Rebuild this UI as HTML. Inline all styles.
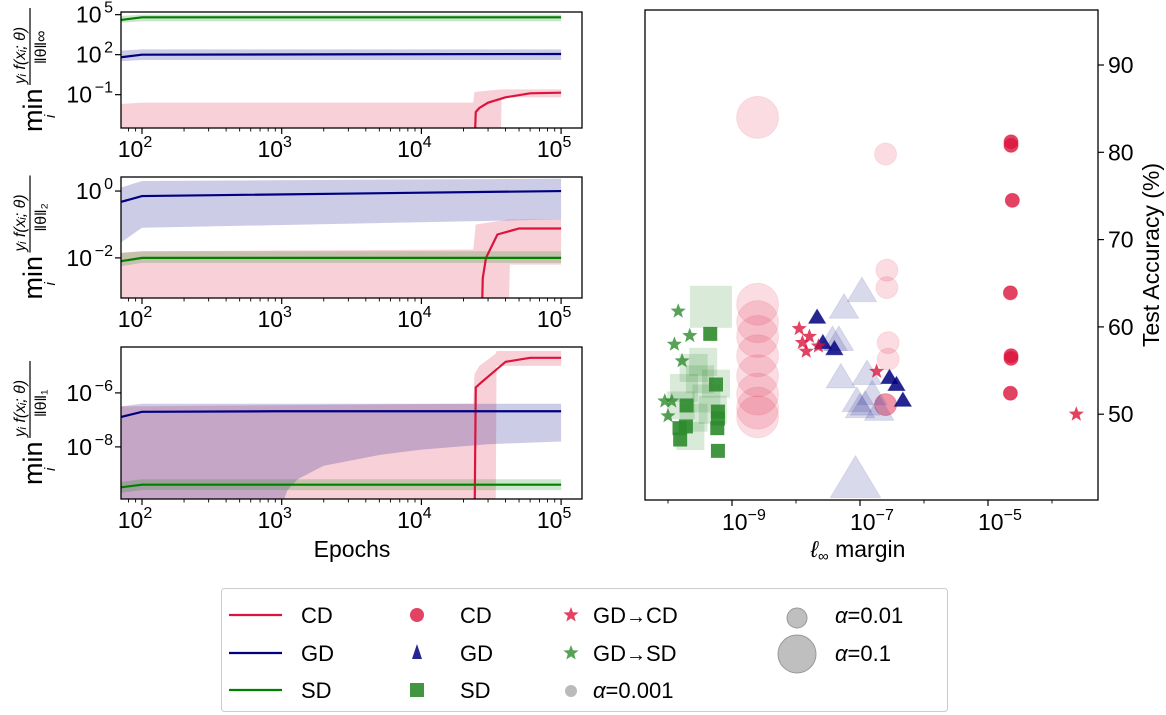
<!DOCTYPE html>
<html><head><meta charset="utf-8"><style>
html,body{margin:0;padding:0;background:#fff;}
svg{display:block;font-family:"Liberation Sans","DejaVu Sans",sans-serif;}
</style></head><body>
<svg id="c" width="1166" height="715" viewBox="0 0 1166 715" xmlns="http://www.w3.org/2000/svg"></svg>
<script>
// ---- left panels data (log10 values) ----
const p1SDx=[70,100,100000], p1SDm=[4.6,4.8,4.8], p1SDlo=[4.4,4.5,4.5], p1SDhi=[4.9,5.0,5.0];
const p1GDx=[70,100,100000], p1GDm=[1.8,2.0,2.05], p1GDlo=[1.5,1.6,1.6], p1GDhi=[2.3,2.4,2.4];
const p1CDbx=[70,100,23500,24000,37000,37500,100000], p1CDblo=[-5,-5,-5,-5,-5,-1.2,-1.2], p1CDbhi=[-1.7,-1.6,-1.6,-0.8,-0.6,-0.6,-0.6];
const p1CDx=[24000,24500,26000,30000,40000,60000,100000], p1CDm=[-5,-2.3,-2.0,-1.6,-1.2,-0.9,-0.85];

const p2GDx=[70,100,100000], p2GDm=[-0.33,-0.15,0], p2GDlo=[-1.55,-1.1,-0.85], p2GDhi=[0.1,0.3,0.37];
const p2SDx=[70,100,100000], p2SDm=[-2.1,-2.0,-2.0], p2SDlo=[-2.25,-2.15,-2.15], p2SDhi=[-1.85,-1.8,-1.8];
const p2CDbx=[70,100,23500,24500,42000,43000,100000], p2CDblo=[-4,-4,-4,-4,-4,-2.2,-2.2], p2CDbhi=[-1.85,-1.8,-1.75,-1.0,-0.85,-0.85,-0.85];
const p2CDx=[27000,27500,29000,35000,50000,100000], p2CDm=[-4,-2.6,-2.0,-1.3,-1.12,-1.12];

const p3GDx=[70,100,900,1000,1100,1300,2000,5000,10000,30000,100000], p3GDm=[-6.9,-6.7,-6.68,-6.68,-6.68,-6.68,-6.68,-6.68,-6.68,-6.68,-6.68], p3GDlo=[-11,-11,-11,-10.2,-9.6,-9.2,-8.7,-8.3,-8.1,-7.9,-7.8], p3GDhi=[-6.5,-6.4,-6.4,-6.4,-6.4,-6.4,-6.4,-6.4,-6.4,-6.4,-6.4];
const p3SDx=[70,100,100000], p3SDm=[-9.5,-9.4,-9.4], p3SDlo=[-9.7,-9.6,-9.6], p3SDhi=[-9.3,-9.2,-9.2];
const p3CDbx=[70,23500,24000,26000,34000,34500,100000], p3CDblo=[-11,-11,-11,-11,-11,-5.0,-5.0], p3CDbhi=[-6.5,-6.4,-5.3,-5.0,-4.55,-4.45,-4.45];
const p3CDx=[24000,24500,27000,30000,40000,60000,100000], p3CDm=[-11,-5.8,-5.6,-5.4,-4.85,-4.7,-4.7];

// ---- scatter data (log10 margin, accuracy) ----
const cdSolidX=[-4.64,-4.64,-4.62,-4.65,-4.64,-4.64,-4.65], cdSolidY=[81.2,80.8,74.5,63.9,56.7,56.4,52.4];
const cdBigX=[-8.6,-8.6,-8.6,-8.6,-8.6,-8.6,-8.6,-8.6,-8.6], cdBigY=[84.0,62.6,60.6,58.9,56.7,54.4,52.3,50.7,49.7];
const cdMedX=[-6.6,-6.58,-6.58,-6.56,-6.56], cdMedY=[79.8,66.5,64.5,58.2,56.3];
const cdMed2X=[-6.6], cdMed2Y=[51.1];
const gdSolidX=[-7.67,-7.58,-7.4,-6.54,-6.43,-6.33], gdSolidY=[61.1,58.2,57.5,54.2,53.4,51.6];
const gdLightX=[-7.25,-6.97,-7.43,-7.33,-7.3,-6.89,-7.05,-6.92,-6.81,-6.7,-7.0], gdLightY=[62.2,64.1,58.5,58.5,54.2,54.6,51.5,51.1,52.3,50.5,50.8];
const gdBigX=[-7.07], gdBigY=[42.5];
const gcX=[-7.95,-7.79,-7.9,-7.84,-7.65,-6.74,-3.62], gcY=[59.8,58.9,58.2,57.2,57.8,54.9,50.0];
const gsX=[-9.84,-9.66,-9.9,-9.78,-10.05,-9.94,-10.0], gsY=[61.8,59.0,58.0,56.1,51.5,51.5,49.8];
const sdSolidX=[-9.34,-9.25,-9.71,-9.22,-9.22,-9.23,-9.82,-9.81,-9.22,-9.72], sdSolidY=[59.2,53.4,51.0,50.3,49.5,48.4,48.4,47.1,45.8,48.6];
const sdLightX=[-9.6,-9.45,-9.25,-9.75,-9.4,-9.6,-9.3,-9.65,-9.5,-9.8], sdLightY=[55.3,56.0,53.5,53.0,51.8,49.6,50.5,47.5,54.0,51.0];
const sdBigX=[-9.33], sdBigY=[62.3];

const xTickE=[2,3,4,5];
const p1Ticks=[5,2,-1], p2Ticks=[0,-2], p3Ticks=[-6,-8];
const sxTicks=[-9,-7,-5], syTicks=[50,60,70,80,90];

const NS="http://www.w3.org/2000/svg";
const svg=document.getElementById('c');
function mk(tag,attrs,parent){const e=document.createElementNS(NS,tag);for(const k in attrs)e.setAttribute(k,attrs[k]);(parent||svg).appendChild(e);return e;}
const CD="#dc143c",GD="#000080",SD="#008000";

const LX0=121,LX1=582;
function lx(v){return 142+(Math.log10(v)-2)*139.7;}

const panels=[
 {top:12,bot:128,ytop:5.2,ybot:-3.5,ticks:p1Ticks,norm:"∞",name:"linf-panel"},
 {top:177,bot:298,ytop:0.42,ybot:-3.2,ticks:p2Ticks,norm:"2",name:"l2-panel"},
 {top:347,bot:499,ytop:-4.3,ybot:-9.93,ticks:p3Ticks,norm:"1",name:"l1-panel"}
];
panels.forEach((p,i)=>{p.y=v=>p.top+(p.ytop-v)/(p.ytop-p.ybot)*(p.bot-p.top);});

function band(p,g,xs,lo,hi,col,name){
  let d="";xs.forEach((x,i)=>{d+=(i?"L":"M")+lx(x)+","+p.y(hi[i]);});
  for(let i=xs.length-1;i>=0;i--)d+="L"+lx(xs[i])+","+p.y(lo[i]);
  const e=mk('path',{d:d+"Z",fill:col,'fill-opacity':0.2,stroke:'none'},g);
  
  
}
function line(p,g,xs,ys,col,name){
  let d="";xs.forEach((x,i)=>{d+=(i?"L":"M")+lx(x)+","+p.y(ys[i]);});
  const e=mk('path',{d:d,fill:'none',stroke:col,'stroke-width':2.2},g);
  
  
}
const defs=mk('defs',{});
panels.forEach((p,i)=>{
  const cp=mk('clipPath',{id:'cp'+i},defs);mk('rect',{x:LX0,y:p.top,width:LX1-LX0,height:p.bot-p.top},cp);
  const g=mk('g',{'clip-path':'url(#cp'+i+')'});
  
  
  if(i===0){band(p,g,p1CDbx,p1CDblo,p1CDbhi,CD,'cd-band');band(p,g,p1GDx,p1GDlo,p1GDhi,GD,'gd-band');band(p,g,p1SDx,p1SDlo,p1SDhi,SD,'sd-band');
    line(p,g,p1CDx,p1CDm,CD,'cd-line');line(p,g,p1GDx,p1GDm,GD,'gd-line');line(p,g,p1SDx,p1SDm,SD,'sd-line');}
  if(i===1){band(p,g,p2CDbx,p2CDblo,p2CDbhi,CD,'cd-band');band(p,g,p2GDx,p2GDlo,p2GDhi,GD,'gd-band');band(p,g,p2SDx,p2SDlo,p2SDhi,SD,'sd-band');
    line(p,g,p2CDx,p2CDm,CD,'cd-line');line(p,g,p2GDx,p2GDm,GD,'gd-line');line(p,g,p2SDx,p2SDm,SD,'sd-line');}
  if(i===2){band(p,g,p3CDbx,p3CDblo,p3CDbhi,CD,'cd-band');band(p,g,p3GDx,p3GDlo,p3GDhi,GD,'gd-band');band(p,g,p3SDx,p3SDlo,p3SDhi,SD,'sd-band');
    line(p,g,p3CDx,p3CDm,CD,'cd-line');line(p,g,p3GDx,p3GDm,GD,'gd-line');line(p,g,p3SDx,p3SDm,SD,'sd-line');}
  mk('rect',{x:LX0,y:p.top,width:LX1-LX0,height:p.bot-p.top,fill:'none',stroke:'#000','stroke-width':1.3});
  for(let e=1;e<=5;e++)for(let m=1;m<10;m++){const v=m*Math.pow(10,e);const x=lx(v);if(x<LX0||x>LX1)continue;
    mk('line',{x1:x,x2:x,y1:p.bot,y2:p.bot+(m===1?6:3.5),stroke:'#000','stroke-width':m===1?1.2:0.9});}
  xTickE.forEach(e=>{const t=mk('text',{x:lx(Math.pow(10,e))-7,y:p.bot+29,'font-size':23,'text-anchor':'middle'});t.textContent='10';
    const s=mk('tspan',{dy:-10,'font-size':16},t);s.textContent=e;
    });
  p.ticks.forEach(e=>{const y=p.y(e);mk('line',{x1:LX0-6,x2:LX0,y1:y,y2:y,stroke:'#000','stroke-width':1.2});
    const lab=e<0?'−'+(-e):''+e;const w=lab.length*9.5;
    const t=mk('text',{x:LX0-10-w,y:y+8,'font-size':23,'text-anchor':'end'});t.textContent='10';
    const s=mk('tspan',{x:LX0-8,dy:-10,'font-size':16,'text-anchor':'end'},t);s.textContent=lab;
    });
  const cy=(p.top+p.bot)/2;
  const g2=mk('g',{transform:`translate(38,${cy}) rotate(-90)`});
  
  const t1=mk('text',{x:-62,y:4,'font-size':27},g2);t1.textContent='min';
  const t1b=mk('text',{x:-48,y:17,'font-size':15,'font-style':'italic'},g2);t1b.textContent='i';
  const t2=mk('text',{x:-14,y:-13,'font-size':16,'font-style':'italic'},g2);t2.textContent='yᵢ f(xᵢ; θ)';
  mk('line',{x1:-15,x2:62,y1:-8,y2:-8,stroke:'#000','stroke-width':1.2},g2);
  const t3=mk('text',{x:6,y:8,'font-size':16},g2);t3.textContent='‖θ‖'+(p.norm==='∞'?'∞':(p.norm==='2'?'₂':'₁'));
});
const ep=mk('text',{x:352,y:557,'font-size':23,'text-anchor':'middle'});ep.textContent='Epochs';


// ---- scatter ----
const SX0=645,SX1=1098,ST=10,SB=500;
function sx(v){return 732+(v+9)*64;}
function sy(v){return 65+(90-v)*8.73;}
const cps=mk('clipPath',{id:'cps'},defs);mk('rect',{x:SX0,y:ST,width:SX1-SX0,height:SB-ST},cps);
const sg=mk('g',{'clip-path':'url(#cps)'});

function circ(xs,ys,r,col,op,name){xs.forEach((x,i)=>{const e=mk('circle',{cx:sx(x),cy:sy(ys[i]),r:r,fill:col,'fill-opacity':op,stroke:col,'stroke-opacity':op*0.6},sg);
  });}
function tri(xs,ys,s,col,op,name){xs.forEach((x,i)=>{const X=sx(x),Y=sy(ys[i]);
  const e=mk('polygon',{points:`${X},${Y-s} ${X-s*1.05},${Y+s*0.75} ${X+s*1.05},${Y+s*0.75}`,fill:col,'fill-opacity':op,stroke:col,'stroke-opacity':op*0.6},sg);
  });}
function sq(xs,ys,s,col,op,name){xs.forEach((x,i)=>{const e=mk('rect',{x:sx(x)-s,y:sy(ys[i])-s,width:2*s,height:2*s,fill:col,'fill-opacity':op},sg);
  });}
function starPts(X,Y,R){let p=[];for(let k=0;k<10;k++){const a=-Math.PI/2+k*Math.PI/5;const r=k%2?R*0.42:R;p.push((X+r*Math.cos(a)).toFixed(1)+','+(Y+r*Math.sin(a)).toFixed(1));}return p.join(' ');}
function star(xs,ys,R,col,name){xs.forEach((x,i)=>{const e=mk('polygon',{points:starPts(sx(x),sy(ys[i]),R),fill:col,'fill-opacity':0.8},sg);
  });}
sq(sdBigX,sdBigY,21,'#2e8b2e',0.18,'sd-square-large');
sq(sdLightX,sdLightY,14,'#2e8b2e',0.18,'sd-square-medium');
circ(cdBigX,cdBigY,21,CD,0.15,'cd-circle-large');
circ(cdMedX,cdMedY,11,CD,0.15,'cd-circle-medium');
circ(cdMed2X,cdMed2Y,11,CD,0.45,'cd-circle-medium');
tri(gdLightX,gdLightY,14,'#4040a0',0.2,'gd-triangle-medium');
tri(gdBigX,gdBigY,24,'#4040a0',0.2,'gd-triangle-large');
tri(gdSolidX,gdSolidY,8,GD,0.85,'gd-triangle-small');
sq(sdSolidX,sdSolidY,7,'#2e8b2e',0.9,'sd-square-small');
circ(cdSolidX,cdSolidY,7,CD,0.8,'cd-circle-small');
star(gcX,gcY,8,CD,'gd-to-cd-star');
star(gsX,gsY,8,'#2e8b2e','gd-to-sd-star');
mk('rect',{x:SX0,y:ST,width:SX1-SX0,height:SB-ST,fill:'none',stroke:'#000','stroke-width':1.3});
for(let e=-11;e<=-3;e++){const x=sx(e);if(x<SX0||x>SX1)continue;
  mk('line',{x1:x,x2:x,y1:SB,y2:SB+(e%2?6:3.5),stroke:'#000','stroke-width':e%2?1.2:0.9});}
sxTicks.forEach(e=>{const t=mk('text',{x:sx(e)-10,y:SB+30,'font-size':23});t.textContent='10';
  const s=mk('tspan',{dy:-10,'font-size':16},t);s.textContent='−'+(-e);
  });
syTicks.forEach(v=>{const y=sy(v);mk('line',{x1:SX1,x2:SX1+6,y1:y,y2:y,stroke:'#000','stroke-width':1.2});
  const t=mk('text',{x:SX1+10,y:y+8,'font-size':23});t.textContent=v;
  });
const sxt=mk('text',{x:858,y:557,'font-size':23,'text-anchor':'middle'});sxt.innerHTML='<tspan font-style="italic">ℓ</tspan><tspan font-size="15" dy="4">∞</tspan><tspan dy="-4"> margin</tspan>';

const syt=mk('text',{x:0,y:0,'font-size':23,'text-anchor':'middle',transform:'translate(1159,255) rotate(-90)'});syt.textContent='Test Accuracy (%)';


// ---- legend ----
const lg=mk('g',{});

mk('rect',{x:221.5,y:588.5,width:726,height:123,rx:3,fill:'#fff',stroke:'#ccc','stroke-width':1},lg);
const rows=[615,653,690];
function ltext(x,y,s,name){const t=mk('text',{x:x,y:y+8,'font-size':22},lg);t.innerHTML=s;}
[[CD,'CD'],[GD,'GD'],[SD,'SD']].forEach((c,i)=>{mk('line',{x1:229,x2:282,y1:rows[i],y2:rows[i],stroke:c[0],'stroke-width':2.2},lg);ltext(301,rows[i],c[1],'legend-entry');});
mk('circle',{cx:417,cy:rows[0],r:7,fill:CD,'fill-opacity':0.8},lg);
mk('polygon',{points:`417,${rows[1]-9} 412,${rows[1]+6} 422,${rows[1]+6}`,fill:GD,'fill-opacity':0.85},lg);
mk('rect',{x:410,y:rows[2]-7,width:14,height:14,fill:'#2e8b2e','fill-opacity':0.9},lg);
ltext(460,rows[0],'CD','legend-entry');ltext(460,rows[1],'GD','legend-entry');ltext(460,rows[2],'SD','legend-entry');
mk('polygon',{points:starPts(571,rows[0],8),fill:CD,'fill-opacity':0.8},lg);
mk('polygon',{points:starPts(571,rows[1],8),fill:'#2e8b2e','fill-opacity':0.8},lg);
mk('circle',{cx:571,cy:rows[2]+1,r:6,fill:'#aaa','fill-opacity':0.8},lg);
ltext(593,rows[0],'GD<tspan font-size="20">→</tspan>CD','legend-entry');ltext(593,rows[1],'GD<tspan font-size="20">→</tspan>SD','legend-entry');ltext(593,rows[2],'<tspan font-style="italic">α</tspan>=0.001','legend-entry');
mk('circle',{cx:797,cy:618,r:10,fill:'#aaa','fill-opacity':0.75,stroke:'#999'},lg);
mk('circle',{cx:797,cy:654,r:19,fill:'#aaa','fill-opacity':0.75,stroke:'#999'},lg);
ltext(835,615,'<tspan font-style="italic">α</tspan>=0.01','legend-entry');ltext(835,653,'<tspan font-style="italic">α</tspan>=0.1','legend-entry');
</script>
</body></html>
